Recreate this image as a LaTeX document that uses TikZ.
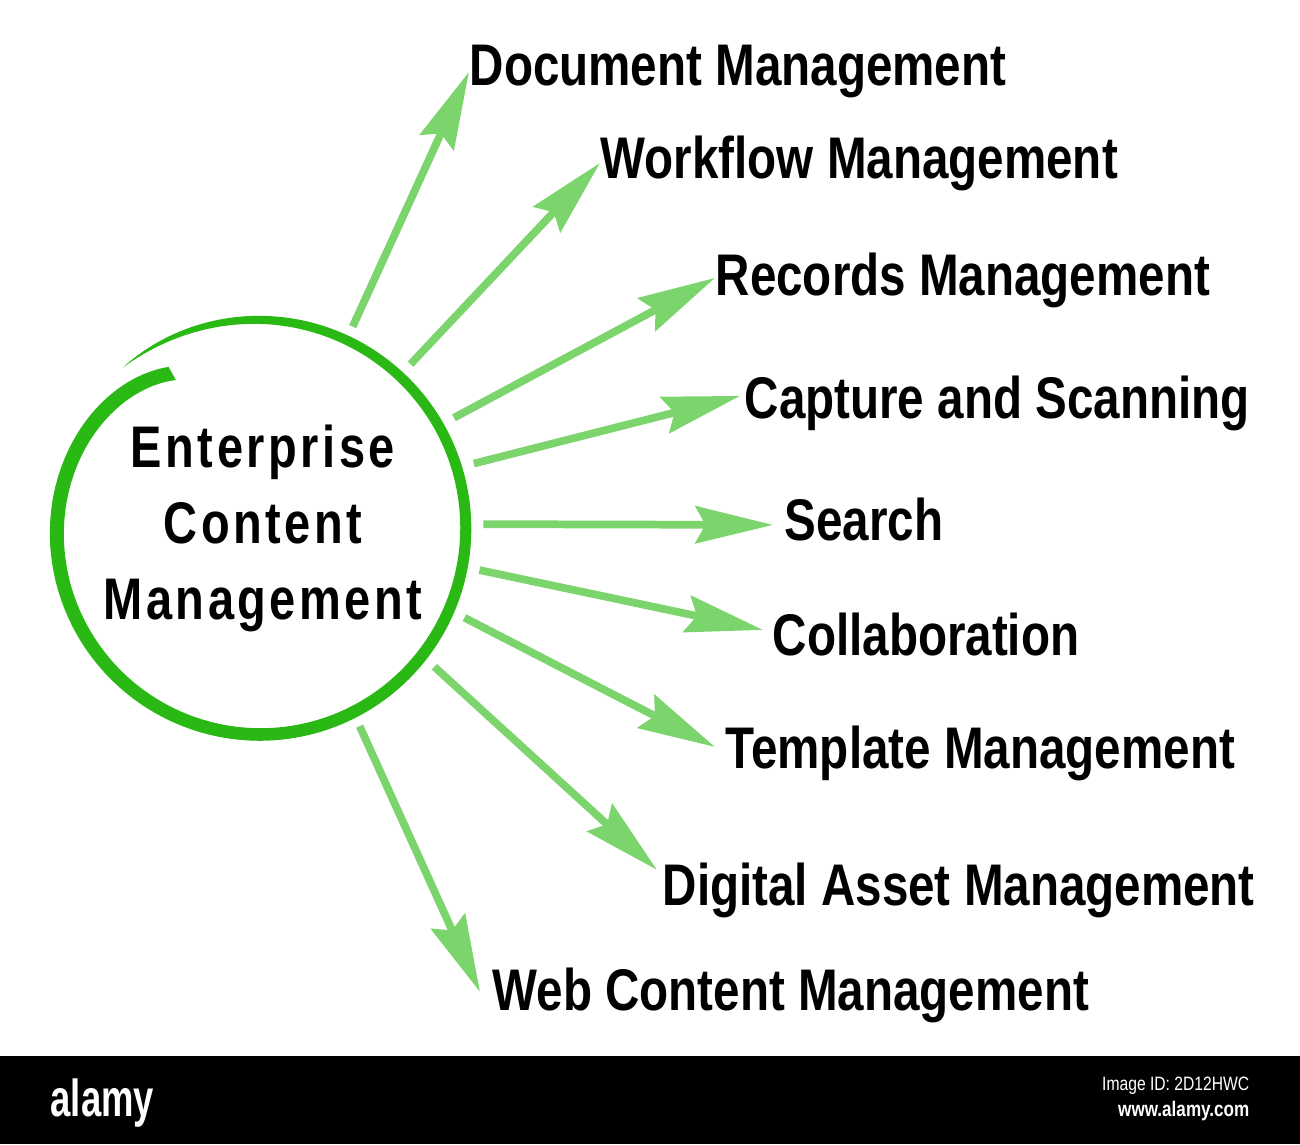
\documentclass[tikz,border=0pt]{standalone}
\usepackage{fontspec}
\setmainfont{Liberation Sans}
\newfontfamily\lblfont[FakeStretch=0.81]{Liberation Sans}
\newfontfamily\ecmfont[FakeStretch=0.8,LetterSpace=6]{Liberation Sans}
\newfontfamily\markfont[FakeStretch=0.7]{Liberation Sans}
\usepackage{xcolor}
\usetikzlibrary{arrows.meta}
\definecolor{ringgreen}{RGB}{42,184,20}
\definecolor{arrowgreen}{RGB}{124,212,108}

\begin{document}
\begin{tikzpicture}[x=0.01cm,y=-0.01cm,
  declare function={ringr(\t)=203+9*((\t-119)/371)^2-24*exp(-(\t-119)/20);
                     ringw(\t)=(15-6*(\t-119)/371)*(1-exp(-(490-\t)/22));},
  lbl/.style={anchor=base west, inner sep=0, text height=12pt, text depth=0pt, font=\lblfont\bfseries\fontsize{16.7}{20}\selectfont},
  arr/.style={draw=arrowgreen, line width=2.2pt, -{Stealth[length=22pt, width=10.5pt, inset=2.8pt]}}]
\useasboundingbox (0,0) rectangle (1300,1144);

\fill[ringgreen] plot[variable=\t, domain=119:490, samples=160, smooth] ({259+(ringr(\t)+ringw(\t)/2)*cos(\t)}, {530-(ringr(\t)+ringw(\t)/2)*sin(\t)})
  -- plot[variable=\t, domain=490:119, samples=160, smooth] ({259+(ringr(\t)-ringw(\t)/2)*cos(\t)}, {530-(ringr(\t)-ringw(\t)/2)*sin(\t)}) -- cycle;
\node[circle, minimum size=125pt, inner sep=0, align=center, font=\ecmfont\bfseries\fontsize{16.7}{21.6}\selectfont] (ecm) at (263,528) {Enterprise\\Content\\Management};

\node[lbl] (doc) at (469,85) {Document Management};
\node[lbl] (work) at (600,178) {Workflow Management};
\node[lbl] (rec) at (715,295) {Records Management};
\node[lbl] (cap) at (744,418) {Capture and Scanning};
\node[lbl] (search) at (784,540) {Search};
\node[lbl] (collab) at (772,655) {Collaboration};
\node[lbl] (templ) at (725,768) {Template Management};
\node[lbl] (digit) at (662,905) {Digital Asset Management};
\node[lbl] (web) at (492,1010) {Web Content Management};

\foreach \n/\a/\dx/\dy in {doc/66/0/8, work/48/0/6, rec/30/0/4, cap/17/-4/-1, search/1/-11/6, collab/-11/-9/-4, templ/-24/-10/0, digit/-39/-5/-14, web/-64/-12/3}
  \draw[arr] (ecm.\a) -- ([shift={(\dx,\dy)}]\n.west);

\fill[black] (0,1056) rectangle (1300,1144);
\node[anchor=base west, inner sep=0, text=white, font=\markfont\bfseries\fontsize{14.8}{15}\selectfont] (brand) at (50,1116) {alamy};
\node[anchor=base east, inner sep=0, text=white, font=\lblfont\fontsize{5.5}{6}\selectfont] (imgid) at (1250,1090) {Image ID: 2D12HWC};
\node[anchor=base east, inner sep=0, text=white, font=\lblfont\bfseries\fontsize{6}{6}\selectfont] (site) at (1250,1116) {www.alamy.com};
\end{tikzpicture}
\end{document}
